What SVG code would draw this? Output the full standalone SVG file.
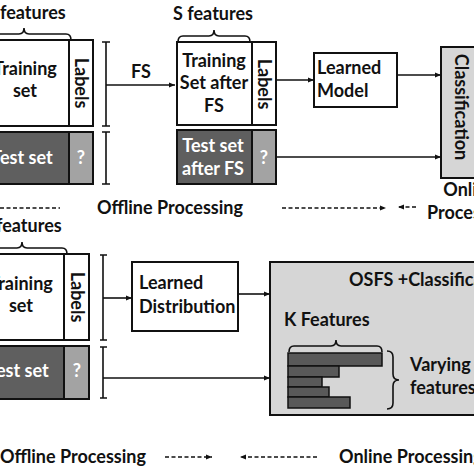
<svg xmlns="http://www.w3.org/2000/svg" width="474" height="474" viewBox="0 0 474 474">
<style>
text{font-family:Lato,"Open Sans","Liberation Sans",sans-serif;font-weight:bold;font-size:18px;fill:#111}
.w{fill:#fff}
.m{text-anchor:middle}
.box{stroke:#111;stroke-width:2}
.wh{fill:#fff}
.dk{fill:#5f5f5f}
.lt{fill:#a3a3a3}
.gr{fill:#d6d6d6}
.bar{fill:#595959;stroke:#111;stroke-width:1.5}
.ln{fill:none;stroke:#111;stroke-width:1.6}
.br{fill:none;stroke:#111;stroke-width:1.6}
.ds{stroke-dasharray:4 2.5}
</style>
<defs>
<marker id="ah" viewBox="0 0 10 10" refX="10" refY="5" markerWidth="6" markerHeight="6" markerUnits="userSpaceOnUse" orient="auto"><path d="M0,1 L10,5 L0,9 z" fill="#111"/></marker>
</defs>
<rect width="474" height="474" fill="#fff"/>

<g id="top-original">
<text x="0" y="19">features</text>
<path class="br" d="M-23,40 q0,-6 5,-6 H19 q5,0 5,-6 q0,6 5,6 H66 q5,0 5,6"/>
<rect class="box wh" x="-5" y="40" width="74" height="86"/>
<rect class="box wh" x="69" y="40" width="24" height="86"/>
<text class="m" x="25" y="75">Training</text>
<text class="m" x="25" y="97">set</text>
<text class="m" transform="translate(81,83) rotate(90)" y="6">Labels</text>
<rect class="box dk" x="-5" y="132" width="74" height="52"/>
<rect class="box lt" x="69" y="132" width="24" height="52"/>
<text class="m w" x="22" y="164">Test set</text>
<text class="m w" x="81" y="164">?</text>
</g>

<g id="top-fs">
<text class="m" x="213" y="20">S features</text>
<path class="br" d="M178,42 q0,-6 5,-6 H209 q5,0 5,-6 q0,6 5,6 H245 q5,0 5,6"/>
<rect class="box wh" x="177" y="42" width="75" height="83"/>
<rect class="box wh" x="252" y="42" width="24" height="83"/>
<text class="m" x="214" y="67">Training</text>
<text class="m" x="214" y="89">Set after</text>
<text class="m" x="214" y="112">FS</text>
<text class="m" transform="translate(264,84) rotate(90)" y="6">Labels</text>
<rect class="box dk" x="177" y="130" width="75" height="54"/>
<rect class="box lt" x="252" y="130" width="24" height="54"/>
<text class="m w" x="213" y="152">Test set</text>
<text class="m w" x="213" y="175">after FS</text>
<text class="m w" x="264" y="164">?</text>
</g>

<g id="learned-model">
<rect class="box wh" x="314" y="53" width="83" height="54"/>
<text x="317" y="74">Learned</text>
<text x="317" y="97">Model</text>
</g>

<g id="classification">
<rect class="box gr" x="441" y="47" width="40" height="131"/>
<text class="m" transform="translate(461,107) rotate(90)" y="6">Classification</text>
</g>

<g id="bottom-original">
<text x="-4" y="232">features</text>
<path class="br" d="M-23,254 q0,-6 5,-6 H17 q5,0 5,-6 q0,6 5,6 H62 q5,0 5,6"/>
<rect class="box wh" x="-10" y="254" width="74" height="86"/>
<rect class="box wh" x="64" y="254" width="25" height="86"/>
<text class="m" x="21" y="290">Training</text>
<text class="m" x="21" y="312">set</text>
<text class="m" transform="translate(77,297) rotate(90)" y="6">Labels</text>
<rect class="box dk" x="-10" y="346" width="74" height="53"/>
<rect class="box lt" x="64" y="346" width="25" height="53"/>
<text class="m w" x="18" y="377">Test set</text>
<text class="m w" x="77" y="377">?</text>
</g>

<g id="learned-distribution">
<rect class="box wh" x="132" y="262" width="106" height="69"/>
<text x="139" y="289">Learned</text>
<text x="139" y="313">Distribution</text>
</g>

<g id="osfs">
<rect class="box gr" x="270" y="262" width="220" height="153"/>
<text x="349" y="286">OSFS +Classification</text>
<text x="284" y="326">K Features</text>
<path class="br" d="M289,352 q0,-6 5,-6 H331 q5,0 5,-6 q0,6 5,6 H377 q5,0 5,6"/>
<rect class="bar" x="288" y="353" width="94" height="13"/>
<rect class="bar" x="288" y="366" width="51" height="11"/>
<rect class="bar" x="288" y="377" width="34" height="10"/>
<rect class="bar" x="288" y="387" width="41" height="10"/>
<rect class="bar" x="288" y="397" width="62" height="11"/>
<path class="br" d="M387,351 q6,0 6,6 V374 q0,6 6,6 q-6,0 -6,6 V403 q0,6 -6,6"/>
<text x="410" y="371">Varying</text>
<text x="410" y="394">features</text>
</g>

<g id="connectors">
<path class="ln" d="M102,42 H110 M106,42 V126 M102,126 H110"/>
<path class="ln" d="M102,132 H110 M106,132 V184 M102,184 H110"/>
<path class="ln" d="M106,85 H175" marker-end="url(#ah)"/>
<text class="m" x="141" y="78">FS</text>
<path class="ln" d="M277,80 H314" marker-end="url(#ah)"/>
<path class="ln" d="M397,75 H441" marker-end="url(#ah)"/>
<path class="ln" d="M277,157 H441" marker-end="url(#ah)"/>
<path class="ln" d="M100,255 H107 M103,255 V340 M100,340 H107"/>
<path class="ln" d="M100,347 H107 M103,347 V398 M100,398 H107"/>
<path class="ln" d="M103,298 H132" marker-end="url(#ah)"/>
<path class="ln" d="M238,294 H270" marker-end="url(#ah)"/>
<path class="ln" d="M103,378 H270" marker-end="url(#ah)"/>
</g>

<g id="legend">
<path class="ln ds" d="M0,208 H60"/>
<text x="97" y="214">Offline Processing</text>
<path class="ln ds" d="M282,208 H386" marker-end="url(#ah)"/>
<path class="ln ds" d="M416,207 H398" marker-end="url(#ah)"/>
<text class="m" x="470" y="196">Online</text>
<text class="m" x="470" y="219">Processing</text>
<text x="0" y="463">Offline Processing</text>
<path class="ln ds" d="M165,457 H212" marker-end="url(#ah)"/>
<path class="ln ds" d="M317,457 H240" marker-end="url(#ah)"/>
<text x="339" y="463">Online Processing</text>
</g>
</svg>
